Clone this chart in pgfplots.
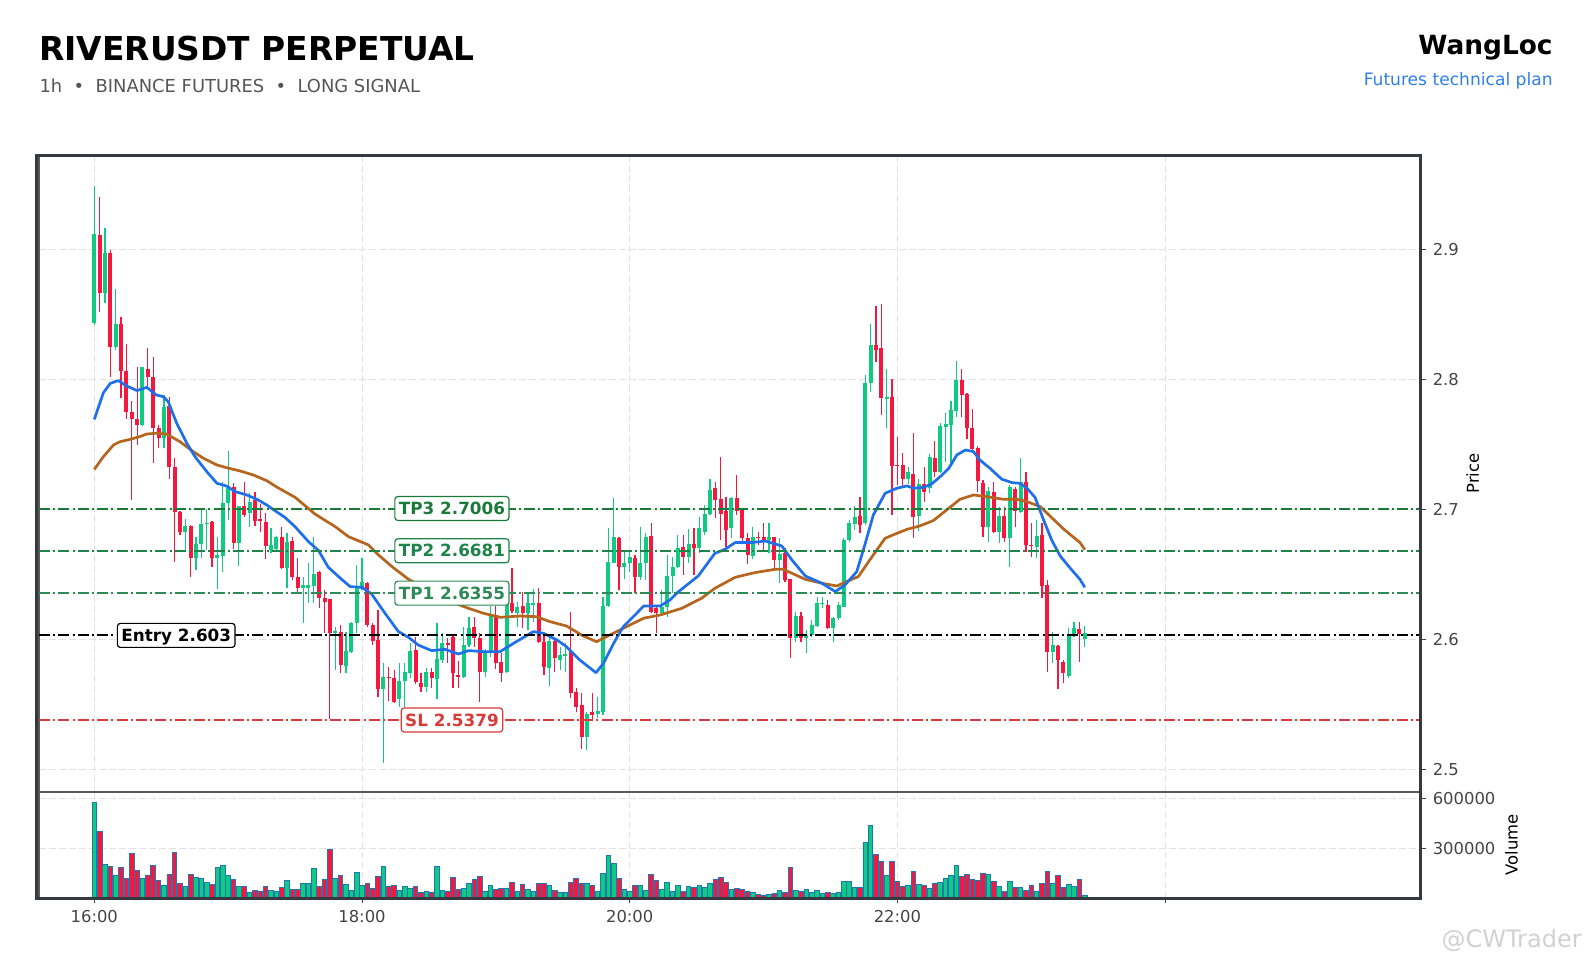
\documentclass[border=0pt]{standalone}
\usepackage{pgfplots}
\pgfplotsset{compat=1.18}
\usepackage{pgfplotstable}
\usepackage{fontspec}
\setmainfont{DejaVu Sans}
\definecolor{upc}{HTML}{0ECB81}
\definecolor{dnc}{HTML}{F6173F}
\definecolor{volEdge}{HTML}{1F77B4}
\definecolor{maBlue}{HTML}{1F6FEB}
\definecolor{maOrange}{HTML}{B5651D}
\definecolor{tpThree}{HTML}{1A7A3A}
\definecolor{tpTwo}{HTML}{1E8449}
\definecolor{tpOne}{HTML}{2E8B57}
\definecolor{slc}{HTML}{D93A3A}
\definecolor{framec}{HTML}{343A40}
\definecolor{tickc}{HTML}{444444}
\definecolor{gridc}{HTML}{E2E2E2}
\definecolor{subc}{HTML}{555555}
\definecolor{linkc}{HTML}{2F7FEA}

\pgfplotstableread{
i o h l c v
0 2.8436 2.9487 2.8420 2.9118 575800
1 2.9110 2.9405 2.8520 2.8661 399800
2 2.8661 2.9161 2.8584 2.8969 203800
3 2.8969 2.8995 2.8020 2.8251 191800
4 2.8251 2.8692 2.8225 2.8425 139800
5 2.8425 2.8482 2.7854 2.8066 185800
6 2.8066 2.8272 2.7692 2.7751 119800
7 2.7751 2.7836 2.7072 2.7692 269800
8 2.7692 2.8097 2.7495 2.7648 167800
9 2.7648 2.8097 2.7640 2.8092 119800
10 2.8077 2.8238 2.7943 2.8020 139800
11 2.8020 2.8174 2.7359 2.7628 197800
12 2.7628 2.7648 2.7469 2.7551 107800
13 2.7551 2.7879 2.7469 2.7789 77800
14 2.7795 2.7866 2.7230 2.7328 143800
15 2.7328 2.7392 2.6597 2.6982 275800
16 2.6982 2.6985 2.6802 2.6828 89800
17 2.6828 2.6923 2.6687 2.6872 71800
18 2.6872 2.6877 2.6477 2.6623 143800
19 2.6623 2.6784 2.6533 2.6733 125800
20 2.6733 2.6995 2.6623 2.6887 119800
21 2.6887 2.6999 2.6687 2.6897 95800
22 2.6905 2.6908 2.6554 2.6623 83800
23 2.6623 2.6789 2.6384 2.6648 185800
24 2.6641 2.7213 2.6520 2.7051 197800
25 2.7051 2.7451 2.6918 2.7161 137800
26 2.7175 2.7200 2.6692 2.6743 113800
27 2.6743 2.7028 2.6564 2.7025 71800
28 2.7025 2.7213 2.6943 2.6956 71800
29 2.6969 2.7128 2.6866 2.7059 35800
30 2.7071 2.7136 2.6872 2.6913 47800
31 2.6923 2.7041 2.6828 2.6913 41800
32 2.6902 2.6969 2.6615 2.6718 71800
33 2.6690 2.6854 2.6661 2.6725 47800
34 2.6692 2.6795 2.6674 2.6789 41800
35 2.6789 2.6866 2.6538 2.6546 65800
36 2.6546 2.6815 2.6392 2.6751 107800
37 2.6759 2.6784 2.6456 2.6482 53800
38 2.6482 2.6628 2.6354 2.6392 53800
39 2.6392 2.6482 2.6128 2.6418 89800
40 2.6392 2.6590 2.6277 2.6418 89800
41 2.6410 2.6784 2.6277 2.6502 179800
42 2.6520 2.6523 2.6238 2.6315 71800
43 2.6315 2.6380 2.6046 2.6290 113800
44 2.6310 2.6313 2.5390 2.6046 293800
45 2.6051 2.6097 2.5764 2.6064 119800
46 2.6059 2.6110 2.5738 2.5802 137800
47 2.5795 2.6059 2.5738 2.5910 83800
48 2.5905 2.6136 2.5892 2.6123 47800
49 2.6123 2.6572 2.6046 2.6405 155800
50 2.6405 2.6623 2.6380 2.6443 77800
51 2.6430 2.6443 2.6097 2.6110 89800
52 2.6110 2.6123 2.5956 2.5990 59800
53 2.5995 2.6226 2.5559 2.5615 131800
54 2.5615 2.5815 2.5046 2.5713 191800
55 2.5713 2.5784 2.5528 2.5700 71800
56 2.5700 2.5764 2.5513 2.5520 77800
57 2.5538 2.5815 2.5482 2.5682 47800
58 2.5682 2.5820 2.5482 2.5746 71800
59 2.5738 2.5969 2.5700 2.5913 59800
60 2.5918 2.6020 2.5656 2.5674 71800
61 2.5667 2.5743 2.5597 2.5631 35800
62 2.5636 2.5777 2.5597 2.5746 42000
63 2.5746 2.5777 2.5623 2.5700 38000
64 2.5692 2.6128 2.5538 2.5846 189800
65 2.5841 2.6051 2.5820 2.5969 45000
66 2.5969 2.6008 2.5815 2.5956 40000
67 2.6020 2.6023 2.5623 2.5738 123800
68 2.5726 2.5836 2.5623 2.5707 53800
69 2.5707 2.6097 2.5700 2.5956 59800
70 2.5956 2.6174 2.5943 2.6084 89800
71 2.6097 2.6174 2.5943 2.6008 113800
72 2.6008 2.6046 2.5520 2.5751 129800
73 2.5751 2.5923 2.5713 2.5892 40000
74 2.5892 2.6256 2.5867 2.6187 77800
75 2.6187 2.6256 2.5769 2.5820 53800
76 2.5828 2.5892 2.5674 2.5744 57800
77 2.5751 2.6290 2.5738 2.6277 57800
78 2.6277 2.6546 2.6200 2.6220 95800
79 2.6205 2.6290 2.6097 2.6251 42000
80 2.6256 2.6367 2.6084 2.6205 83800
81 2.6205 2.6354 2.6072 2.6277 53800
82 2.6261 2.6384 2.6136 2.6277 40000
83 2.6277 2.6392 2.5974 2.5982 89800
84 2.5982 2.6046 2.5726 2.5789 89800
85 2.5777 2.6020 2.5640 2.5987 77800
86 2.5987 2.6000 2.5751 2.5854 45000
87 2.5841 2.5943 2.5764 2.5880 35000
88 2.5874 2.5969 2.5750 2.5885 38000
89 2.5913 2.6213 2.5546 2.5584 95800
90 2.5597 2.5623 2.5443 2.5482 119800
91 2.5495 2.5584 2.5160 2.5250 89800
92 2.5250 2.5443 2.5148 2.5425 89800
93 2.5443 2.5584 2.5379 2.5418 77800
94 2.5425 2.5559 2.5392 2.5451 40000
95 2.5443 2.6323 2.5418 2.6256 149800
96 2.6256 2.6854 2.6250 2.6597 257800
97 2.6589 2.7084 2.6586 2.6789 209800
98 2.6782 2.6790 2.6379 2.6559 117800
99 2.6554 2.6687 2.6461 2.6589 53800
100 2.6589 2.6674 2.6520 2.6636 40000
101 2.6623 2.6648 2.6354 2.6482 77800
102 2.6482 2.6861 2.6456 2.6585 77800
103 2.6585 2.6815 2.6456 2.6789 45000
104 2.6795 2.6892 2.6200 2.6213 143800
105 2.6238 2.6251 2.6046 2.6200 107800
106 2.6200 2.6380 2.6187 2.6251 53800
107 2.6251 2.6648 2.6174 2.6487 95800
108 2.6487 2.6636 2.6354 2.6559 42000
109 2.6554 2.6802 2.6546 2.6700 77800
110 2.6713 2.6802 2.6495 2.6630 40000
111 2.6630 2.6846 2.6585 2.6733 69800
112 2.6733 2.6854 2.6495 2.6700 63800
113 2.6700 2.6943 2.6661 2.6854 77800
114 2.6828 2.7033 2.6802 2.6964 63800
115 2.6964 2.7231 2.6956 2.7149 89800
116 2.7162 2.7213 2.6931 2.7072 113800
117 2.7080 2.7400 2.6764 2.6964 125800
118 2.6990 2.7097 2.6713 2.6841 95800
119 2.6854 2.7097 2.6777 2.7085 53800
120 2.7085 2.7264 2.6956 2.6990 59800
121 2.6995 2.7000 2.6733 2.6777 53800
122 2.6777 2.6815 2.6579 2.6649 40000
123 2.6641 2.6866 2.6615 2.6790 35000
124 2.6790 2.6828 2.6726 2.6777 25000
125 2.6785 2.6892 2.6687 2.6760 20000
126 2.6760 2.6892 2.6661 2.6785 22000
127 2.6785 2.6790 2.6546 2.6610 30000
128 2.6610 2.6777 2.6430 2.6656 45000
129 2.6662 2.6700 2.6443 2.6456 35000
130 2.6461 2.6464 2.5854 2.6008 185800
131 2.6008 2.6213 2.5982 2.6179 48000
132 2.6179 2.6213 2.5982 2.6008 40000
133 2.6008 2.6070 2.5892 2.6033 53800
134 2.6033 2.6149 2.6020 2.6110 35000
135 2.6103 2.6328 2.6097 2.6277 45000
136 2.6272 2.6328 2.6238 2.6282 30000
137 2.6264 2.6303 2.6077 2.6085 35000
138 2.6085 2.6174 2.5982 2.6162 30000
139 2.6164 2.6290 2.6149 2.6264 38000
140 2.6251 2.6777 2.6248 2.6764 101800
141 2.6764 2.6918 2.6751 2.6892 101800
142 2.6887 2.7026 2.6841 2.6944 63800
143 2.6949 2.7097 2.6815 2.6880 63800
144 2.6892 2.8033 2.6880 2.7969 335800
145 2.7969 2.8426 2.7905 2.8264 437800
146 2.8264 2.8564 2.8136 2.8226 263800
147 2.8238 2.8579 2.7726 2.7854 221800
148 2.7854 2.8077 2.7623 2.7862 137800
149 2.7862 2.8000 2.6956 2.7333 221800
150 2.7341 2.7559 2.7187 2.7333 101800
151 2.7341 2.7436 2.7180 2.7231 71800
152 2.7231 2.7328 2.7195 2.7285 77800
153 2.7269 2.7590 2.6777 2.6944 161800
154 2.6949 2.7231 2.6836 2.7195 83800
155 2.7195 2.7328 2.7059 2.7136 77800
156 2.7162 2.7426 2.7123 2.7400 59800
157 2.7392 2.7528 2.7251 2.7290 89800
158 2.7290 2.7661 2.7282 2.7640 95800
159 2.7636 2.7738 2.7367 2.7656 119800
160 2.7649 2.7836 2.7341 2.7764 137800
161 2.7759 2.8143 2.7708 2.7995 197800
162 2.7995 2.8077 2.7713 2.7879 131800
163 2.7887 2.7897 2.7538 2.7623 143800
164 2.7623 2.7769 2.7444 2.7462 113800
165 2.7470 2.7487 2.7136 2.7220 107800
166 2.7205 2.7226 2.6790 2.6862 149800
167 2.6862 2.7174 2.6751 2.7144 143800
168 2.7136 2.7213 2.6815 2.6828 101800
169 2.6828 2.7021 2.6738 2.6949 71800
170 2.6949 2.7021 2.6751 2.6777 40000
171 2.6777 2.7187 2.6559 2.7169 101800
172 2.7154 2.7169 2.6867 2.6990 65800
173 2.6982 2.7392 2.6969 2.7213 65800
174 2.7213 2.7290 2.6674 2.6726 45000
175 2.6726 2.6892 2.6636 2.6718 77800
176 2.6713 2.6918 2.6623 2.6795 42000
177 2.6803 2.6892 2.6315 2.6410 89800
178 2.6418 2.6456 2.5751 2.5905 161800
179 2.5905 2.6059 2.5815 2.5956 89800
180 2.5949 2.5956 2.5615 2.5841 137800
181 2.5828 2.5841 2.5667 2.5738 65800
182 2.5718 2.6085 2.5700 2.6041 83800
183 2.6041 2.6136 2.6020 2.6085 71800
184 2.6077 2.6136 2.5828 2.6041 113800
185 2.6000 2.6100 2.5940 2.6050 20000
}\candles

\pgfplotsset{
  basechart/.style={
    scale only axis, width=690.85pt,
    xmin=-10.33, xmax=247.74,
    axis line style={draw=black!65, line width=0.8pt},
    grid=major,
    major grid style={draw=gridc, line width=0.5pt, dash pattern=on 3.3pt off 1.7pt},
    tick align=outside, major tick length=2.5pt,
    tick style={draw=tickc, line width=0.5pt},
    tick label style={font=\fontsize{8.2}{9.5}\selectfont, text=tickc},
    ytick pos=right, yticklabel pos=right,
    xtick={0,50,100,150,200},
    scaled y ticks=false, scaled x ticks=false,
  },
  candleerr/.style={draw=none, mark=none, forget plot,
    /pgfplots/error bars/y dir=both, /pgfplots/error bars/y explicit,
    /pgfplots/error bars/error mark=none,
    /pgfplots/error bars/error bar style={draw=#1, solid, line width=0.6pt}},
  bodyerr/.style={draw=none, mark=none, forget plot,
    /pgfplots/error bars/y dir=both, /pgfplots/error bars/y explicit,
    /pgfplots/error bars/error mark=none,
    /pgfplots/error bars/error bar style={draw=#1, solid, line width=2pt}},
  lvl/.style={draw=#1, line width=1pt, dash pattern=on 5.5pt off 1.6pt on 1pt off 1.6pt, forget plot},
}
\tikzset{
  lbl/.style={draw=#1, text=#1, fill=white, rounded corners=1.5pt, line width=0.6pt,
    font=\bfseries\fontsize{8.4}{10}\selectfont, inner xsep=2pt, inner ysep=2.9pt,
    text height=6.2pt, text depth=0pt},
}

\begin{document}
\begin{tikzpicture}
\useasboundingbox (0,0) rectangle (795pt,481pt);

% ---------------- price panel ----------------
\begin{axis}[basechart, at={(19.5pt,85pt)}, anchor=south west, height=318.25pt,
  ymin=2.48254, ymax=2.97215,
  ytick={2.5,2.6,2.7,2.8,2.9}, yticklabels={2.5,2.6,2.7,2.8,2.9},
  xticklabels={}, xtick style={draw=none}]
% wicks
\addplot[restrict expr to domain={\thisrow{c}-\thisrow{o}}{0:1}, candleerr=upc]
  table[x=i, y expr={(\thisrow{h}+\thisrow{l})/2}, y error expr={(\thisrow{h}-\thisrow{l})/2}] {\candles};
\addplot[restrict expr to domain={\thisrow{c}-\thisrow{o}}{-1:-0.00000001}, candleerr=dnc]
  table[x=i, y expr={(\thisrow{h}+\thisrow{l})/2}, y error expr={(\thisrow{h}-\thisrow{l})/2}] {\candles};
% bodies
\addplot[restrict expr to domain={\thisrow{c}-\thisrow{o}}{0:1}, bodyerr=upc]
  table[x=i, y expr={(\thisrow{o}+\thisrow{c})/2}, y error expr={max(abs(\thisrow{c}-\thisrow{o})/2,0.0004)}] {\candles};
\addplot[restrict expr to domain={\thisrow{c}-\thisrow{o}}{-1:-0.00000001}, bodyerr=dnc]
  table[x=i, y expr={(\thisrow{o}+\thisrow{c})/2}, y error expr={max(abs(\thisrow{c}-\thisrow{o})/2,0.0004)}] {\candles};

% moving averages
\addplot[maOrange, line width=1.35pt, line join=round, mark=none] coordinates {
(0,2.7307) (1.7,2.7405) (3.6,2.7495) (4.8,2.7520) (6.7,2.7538) (8.5,2.7559) (9.8,2.7579)
(11.6,2.7585) (13.5,2.7579) (16,2.7520) (18.5,2.7443) (20.4,2.7392) (22.9,2.7341) (24.7,2.7320)
(27.2,2.7295) (29.7,2.7264) (32.2,2.7220) (34.2,2.7168) (37.5,2.7092) (41.2,2.6964) (45,2.6866)
(47.5,2.6789) (51.2,2.6726) (53.1,2.6648) (55.6,2.6559) (58.7,2.6461) (61.2,2.6405) (65,2.6354)
(67.4,2.6277) (69.9,2.6238) (72.7,2.6200) (75.8,2.6169) (79.5,2.6179) (82.6,2.6174) (85.1,2.6136)
(88.2,2.6102) (91.3,2.6026) (93.8,2.5982) (96.3,2.6033) (99.4,2.6097) (102.6,2.6162) (105.7,2.6187)
(109.7,2.6238) (113.4,2.6315) (115.9,2.6392) (119.7,2.6477) (123.4,2.6513) (127.1,2.6538)
(128.7,2.6538) (132.8,2.6461) (135.9,2.6431) (138.7,2.6410) (140.5,2.6444) (142.7,2.6482)
(144,2.6560) (145.5,2.6649) (147.7,2.6777) (149.9,2.6815) (151.8,2.6846) (154.2,2.6872)
(156.7,2.6913) (159.2,2.6995) (161.7,2.7077) (164.2,2.7110) (166.7,2.7097) (169.8,2.7077)
(172.3,2.7077) (174.2,2.7059) (176.7,2.7020) (178.6,2.6944) (181.1,2.6846) (184.1,2.6744) (185,2.6690)};
\addplot[maBlue, line width=1.35pt, line join=round, mark=none] coordinates {
(0,2.7692) (1.7,2.7897) (3,2.7969) (4.5,2.7990) (6,2.7949) (8,2.7913) (9.8,2.7938) (11.6,2.7879)
(12.9,2.7866) (13.8,2.7828) (15.4,2.7661) (17.3,2.7507) (18.8,2.7405) (21,2.7290) (22.9,2.7200)
(24.7,2.7179) (26.3,2.7136) (28.5,2.7110) (30.6,2.7072) (32.2,2.7033) (34,2.6982) (35.6,2.6938)
(37.5,2.6866) (40,2.6751) (41.9,2.6682) (43.7,2.6554) (46.2,2.6461) (47.8,2.6405) (50,2.6400)
(51.8,2.6348) (54.3,2.6200) (56.8,2.6059) (58.7,2.6015) (60.5,2.5956) (63,2.5913) (65.5,2.5923)
(68,2.5887) (69.9,2.5913) (72.7,2.5905) (75.8,2.5905) (78.3,2.5969) (82,2.6059) (83.9,2.6046)
(86.4,2.5995) (88.2,2.5943) (90.7,2.5840) (93.7,2.5743) (95.1,2.5815) (97,2.5969) (98.8,2.6097)
(101.3,2.6200) (102.6,2.6256) (105.7,2.6256) (107.5,2.6302) (109.1,2.6366) (112.8,2.6487)
(115.9,2.6661) (117.8,2.6692) (119.7,2.6744) (122.8,2.6744) (125.3,2.6756) (128.4,2.6718)
(130.3,2.6610) (132.8,2.6487) (135.9,2.6431) (138.4,2.6367) (140.2,2.6418) (142.4,2.6520)
(144,2.6738) (145.5,2.6956) (147.7,2.7123) (149.9,2.7162) (151.8,2.7180) (153,2.7162)
(154.9,2.7169) (156.4,2.7195) (158,2.7251) (159.6,2.7315) (161.1,2.7418) (162.7,2.7456)
(164.2,2.7444) (165.4,2.7379) (167.3,2.7315) (169.5,2.7231) (171.4,2.7205) (172.9,2.7200)
(174.2,2.7162) (175.7,2.7092) (177.3,2.6918) (178.8,2.6764) (180.4,2.6641) (182.3,2.6546)
(184.1,2.6461) (185,2.6400)};

% levels
\addplot[lvl=tpThree] coordinates {(-10.33,2.7006) (247.74,2.7006)};
\addplot[lvl=tpTwo] coordinates {(-10.33,2.6681) (247.74,2.6681)};
\addplot[lvl=tpOne] coordinates {(-10.33,2.6355) (247.74,2.6355)};
\addplot[lvl=black] coordinates {(-10.33,2.603) (247.74,2.603)};
\addplot[lvl=slc] coordinates {(-10.33,2.5379) (247.74,2.5379)};

\node[lbl=tpThree] at (axis cs:66.8,2.7006) {TP3 2.7006};
\node[lbl=tpTwo] at (axis cs:66.8,2.6681) {TP2 2.6681};
\node[lbl=tpOne] at (axis cs:66.8,2.6355) {TP1 2.6355};
\node[lbl=black] at (axis cs:15.3,2.603) {Entry 2.603};
\node[lbl=slc] at (axis cs:66.8,2.5379) {SL 2.5379};
\end{axis}

% ---------------- volume panel ----------------
\begin{axis}[basechart, at={(19.5pt,31.85pt)}, anchor=south west, height=53.15pt,
  ymin=0, ymax=637800,
  ytick={300000,600000}, yticklabels={300000,600000},
  xticklabels={16:00,18:00,20:00,22:00,{}}, xtick pos=bottom]
\addplot[restrict expr to domain={\thisrow{c}-\thisrow{o}}{0:1},
  ybar, bar width=0.86, bar shift=0pt, fill=upc, draw=volEdge, line width=0.45pt]
  table[x=i, y=v] {\candles};
\addplot[restrict expr to domain={\thisrow{c}-\thisrow{o}}{-1:-0.00000001},
  ybar, bar width=0.86, bar shift=0pt, fill=dnc, draw=volEdge, line width=0.45pt]
  table[x=i, y=v] {\candles};
\end{axis}

% outer frame
\draw[framec, line width=1.25pt] (18.15pt,31.85pt) rectangle (710.35pt,403.25pt);

% titles
\node[anchor=base west, inner sep=0pt] at (19.5pt,450.5pt)
  {\fontsize{16.45}{19}\selectfont\bfseries RIVERUSDT PERPETUAL};
\node[anchor=base west, inner sep=0pt, text=subc] at (19.6pt,434.6pt)
  {\fontsize{8.95}{10}\selectfont 1h\ \ •\ \ BINANCE FUTURES\ \ •\ \ LONG SIGNAL};
\node[anchor=base east, inner sep=0pt] at (776.5pt,453.5pt)
  {\fontsize{13.2}{15}\selectfont\bfseries WangLoc};
\node[anchor=base east, inner sep=0pt, text=linkc] at (776.5pt,438pt)
  {\fontsize{8.55}{10}\selectfont Futures technical plan};

% axis titles
\node[rotate=90, inner sep=0pt] at (736.4pt,244.3pt) {\fontsize{8.2}{10}\selectfont Price};
\node[rotate=90, inner sep=0pt] at (755.8pt,58.5pt) {\fontsize{8.2}{10}\selectfont Volume};

% watermark
\node[anchor=base east, inner sep=0pt, text=black!18] at (791pt,7pt)
  {\fontsize{12}{14}\selectfont @CWTrader};
\end{tikzpicture}
\end{document}
